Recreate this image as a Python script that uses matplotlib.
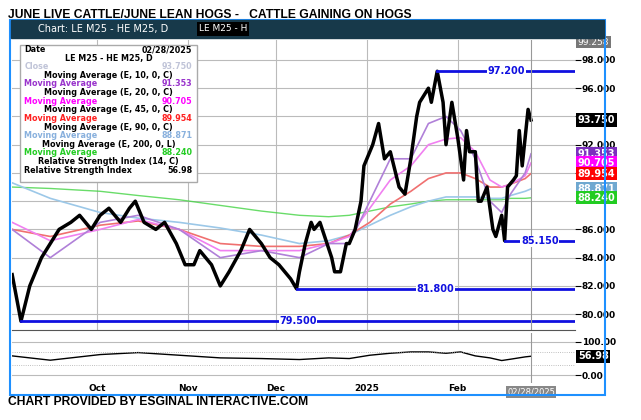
import matplotlib
matplotlib.use("Agg")
import matplotlib.pyplot as plt
import matplotlib.patches as mpatches
import pandas as pd

# days after 2024-09-01 and closes for LE M25 - HE M25 spread
close_day = [1, 4, 7, 11, 14, 17, 21, 24, 28, 31, 34, 38, 41, 43, 46, 50, 53, 57, 60, 63, 65, 69,
             72, 75, 79, 82, 86, 89, 92, 96, 98, 99, 101, 103, 104, 106, 110, 111, 113, 115, 116,
             118, 120, 121, 124, 126, 128, 130, 133, 135, 137, 139, 140, 143, 144, 146, 148, 149,
             151, 153, 155, 156, 157, 159, 160, 161, 163, 165, 166, 168, 169, 170, 172, 173, 174,
             175, 177, 178]
close_val = [82.8, 79.5, 82.0, 84.0, 85.0, 86.0, 86.5, 87.0, 86.0, 87.0, 87.5, 86.5, 87.5, 88.0,
             86.5, 86.0, 86.5, 85.0, 83.5, 83.5, 84.5, 83.5, 82.0, 83.0, 84.5, 86.0, 85.0, 84.0,
             83.5, 82.5, 81.8, 83.0, 85.0, 86.5, 86.0, 86.5, 84.0, 83.0, 83.0, 85.0, 85.0, 86.0,
             88.0, 90.5, 92.0, 93.5, 91.0, 91.5, 89.0, 88.5, 91.0, 94.0, 95.0, 96.0, 95.0, 97.2,
             95.0, 92.0, 95.0, 92.5, 89.5, 93.0, 91.5, 91.5, 88.0, 88.0, 89.0, 86.0, 85.5, 87.0,
             85.2, 89.0, 89.5, 89.8, 93.0, 90.5, 94.5, 93.75]

ma_day = [1, 14, 31, 44, 58, 72, 86, 99, 109, 116, 123, 130, 137, 143, 149, 154, 159, 164, 168,
          171, 176, 178]
ma10 = [86.0, 84.0, 86.5, 87.0, 86.0, 84.0, 84.5, 84.0, 85.0, 85.0, 88.0, 91.0, 91.0, 93.5, 94.0,
        93.0, 91.0, 88.0, 87.2, 88.5, 90.0, 91.353]
ma20 = [86.5, 85.2, 86.0, 86.7, 86.0, 84.5, 84.5, 84.5, 85.0, 85.5, 87.5, 89.5, 90.5, 92.0, 92.4,
        92.5, 91.5, 89.5, 89.0, 89.2, 89.8, 90.705]
ma45 = [86.0, 85.5, 86.3, 86.6, 86.0, 85.0, 84.8, 84.8, 85.0, 85.6, 86.5, 87.8, 88.7, 89.6, 90.0,
        90.0, 89.6, 89.0, 89.0, 89.2, 89.6, 89.954]
ma90 = [89.3, 88.2, 87.2, 86.8, 86.5, 86.1, 85.6, 85.0, 85.2, 85.6, 86.3, 87.0, 87.6, 88.0, 88.3,
        88.3, 88.3, 88.2, 88.2, 88.4, 88.7, 88.871]
ma200 = [89.0, 88.9, 88.7, 88.4, 88.1, 87.7, 87.3, 87.0, 86.9, 87.0, 87.3, 87.6, 87.8, 88.0, 88.1,
         88.1, 88.1, 88.1, 88.1, 88.2, 88.2, 88.24]
rsi = [58, 45, 62, 68, 60, 52, 50, 47, 52, 50, 60, 66, 70, 70, 66, 70, 58, 52, 44, 48, 55, 56.98]

levels = [(146, 97.2), (169, 85.15), (98, 81.8), (4, 79.5)]
month_ticks = ["2024-10-01", "2024-11-01", "2024-12-01", "2025-01-01", "2025-02-01"]
month_labels = ["Oct", "Nov", "Dec", "2025", "Feb"]
right_ticks = [80, 82, 84, 86, 88, 90, 92, 94, 96, 98]
hidden_ticks = [88, 90, 94]  # covered by the value tags

t0 = pd.Timestamp("2024-09-01")
def dates(days):
    return [t0 + pd.Timedelta(days=d) for d in days]

x0, x1 = t0 + pd.Timedelta(days=1), t0 + pd.Timedelta(days=193)
last = t0 + pd.Timedelta(days=178)

fig = plt.figure(figsize=(6.41, 4.2), dpi=100)
fig.text(0.012, 0.978, "JUNE LIVE CATTLE/JUNE LEAN HOGS -   CATTLE GAINING ON HOGS",
         fontsize=8.7, fontweight="bold", va="top", family="Liberation Sans")
fig.text(0.012, 0.028, "CHART PROVIDED BY ESGINAL INTERACTIVE.COM",
         fontsize=8.7, fontweight="bold", va="bottom", family="Liberation Sans")
# window frame + header bar
fig.patches.append(mpatches.Rectangle((0.016, 0.06), 0.928, 0.893, transform=fig.transFigure,
                                      fill=False, ec="#1e90ff", lw=1.5))
fig.patches.append(mpatches.Rectangle((0.017, 0.91), 0.926, 0.042, transform=fig.transFigure,
                                      color="#17394a"))
fig.text(0.06, 0.931, "Chart: LE M25 - HE M25, D", color="white", fontsize=7, va="center")
fig.text(0.31, 0.931, "LE M25 - H", color="white", fontsize=6.5, va="center",
         bbox=dict(fc="#000000", ec="none", pad=1.5))

ax = fig.add_axes([0.019, 0.214, 0.878, 0.691])
ax.plot(dates(ma_day), ma200, color="#44d444", lw=1, alpha=0.8)
ax.plot(dates(ma_day), ma90, color="#9cc8e8", lw=1.2)
ax.plot(dates(ma_day), ma45, color="#f07070", lw=1.2)
ax.plot(dates(ma_day), ma20, color="#f080f0", lw=1.2)
ax.plot(dates(ma_day), ma10, color="#b080d8", lw=1.2)
ax.plot(dates(close_day), close_val, color="black", lw=2.5)
for d, v in levels:
    ax.plot([t0 + pd.Timedelta(days=d), x1], [v, v], color="#1010e0", lw=2)
    lx = t0 + pd.Timedelta(days=(d + 193) / 2)
    ax.text(lx, v, f"{v:.3f}", color="#1010e0", fontsize=7, fontweight="bold",
            ha="center", va="center", bbox=dict(fc="white", ec="none", pad=0.5))
ax.axvline(last, color="#999999", lw=0.8)
ax.set_xlim(x0, x1)
ax.set_ylim(78.87, 99.42)
ax.set_yticks(right_ticks)
ax.yaxis.tick_right()
ax.set_yticklabels(["" if v in hidden_ticks else f"{v:.3f}" for v in right_ticks],
                   fontsize=6.5, fontweight="bold")
ax.tick_params(axis="y", length=4, pad=1)
ax.set_xticks(pd.to_datetime(month_ticks))
ax.tick_params(axis="x", labelbottom=False, length=0)
ax.grid(True, color="#bbbbbb", lw=0.8)
for s in ax.spines.values():
    s.set_visible(False)
ax.spines["bottom"].set_visible(True)
ax.spines["bottom"].set_color("#555555")

# value tags on the right axis
tags = [(93.75, "93.750", "black"), (91.353, "91.353", "#7b2fbe"), (90.705, "90.705", "#ff00ff"),
        (89.954, "89.954", "#ff0000"), (88.871, "88.871", "#6fa8d0"), (88.24, "88.240", "#22cc22")]
for v, s, c in tags:
    ax.text(1.005, v, s, transform=ax.get_yaxis_transform(), fontsize=7, fontweight="bold",
            color="white", va="center", bbox=dict(fc=c, ec="none", pad=1.2))
ax.text(1.005, 99.25, "99.258", transform=ax.get_yaxis_transform(), fontsize=6.5,
        color="white", va="center", bbox=dict(fc="#777777", ec="none", pad=1))

# data window box
lines = [("Date", "02/28/2025", "black"), ("LE M25 - HE M25, D", None, "black"),
         ("Close", "93.750", "#c0c4d8"), ("Moving Average (E, 10, 0, C)", None, "black"),
         ("Moving Average", "91.353", "#9933cc"), ("Moving Average (E, 20, 0, C)", None, "black"),
         ("Moving Average", "90.705", "#ff00ff"), ("Moving Average (E, 45, 0, C)", None, "black"),
         ("Moving Average", "89.954", "#ff2020"), ("Moving Average (E, 90, 0, C)", None, "black"),
         ("Moving Average", "88.871", "#88b0dd"), ("Moving Average (E, 200, 0, L)", None, "black"),
         ("Moving Average", "88.240", "#22cc22"), ("Relative Strength Index (14, C)", None, "black"),
         ("Relative Strength Index", "56.98", "black")]
fig.patches.append(mpatches.Rectangle((0.031, 0.567), 0.276, 0.326, transform=fig.transFigure,
                                      fc="white", ec="#aaaaaa", lw=1, zorder=5))
for i, (a, b, c) in enumerate(lines):
    y = 0.882 - i * 0.0205
    if b is None:
        fig.text(0.169, y, a, ha="center", va="center", fontsize=5.8, fontweight="bold",
                 color=c, zorder=6)
    else:
        fig.text(0.038, y, a, va="center", fontsize=5.8, fontweight="bold", color=c, zorder=6)
        fig.text(0.300, y, b, va="center", ha="right", fontsize=5.8, fontweight="bold",
                 color=c, zorder=6)

# RSI panel
rx = fig.add_axes([0.019, 0.088, 0.878, 0.119])
rx.plot(dates(ma_day), rsi, color="black", lw=1)
rx.axhline(70, color="#aaaaaa", lw=0.6, ls=":")
rx.axhline(30, color="#aaaaaa", lw=0.6, ls=":")
rx.axvline(last, color="#999999", lw=0.8)
rx.set_xlim(x0, x1)
rx.set_ylim(-24, 127)
rx.set_yticks([0, 100])
rx.yaxis.tick_right()
rx.set_yticklabels(["0.00", "100.00"], fontsize=6.5, fontweight="bold")
rx.tick_params(axis="y", length=4, pad=1)
rx.grid(True, axis="y", color="#bbbbbb", lw=0.8)
rx.set_xticks(pd.to_datetime(month_ticks))
rx.set_xticklabels(month_labels, fontsize=6.5, fontweight="bold")
rx.tick_params(axis="x", length=0, pad=1)
for s in rx.spines.values():
    s.set_visible(False)
rx.text(1.005, 56.98, "56.98", transform=rx.get_yaxis_transform(), fontsize=7,
        fontweight="bold", color="white", va="center", bbox=dict(fc="black", ec="none", pad=1.2))
rx.text(last, -52, "02/28/2025", fontsize=6, color="white", ha="center", va="center",
        bbox=dict(fc="#888888", ec="none", pad=1))

fig.savefig("out.png", dpi=100)
